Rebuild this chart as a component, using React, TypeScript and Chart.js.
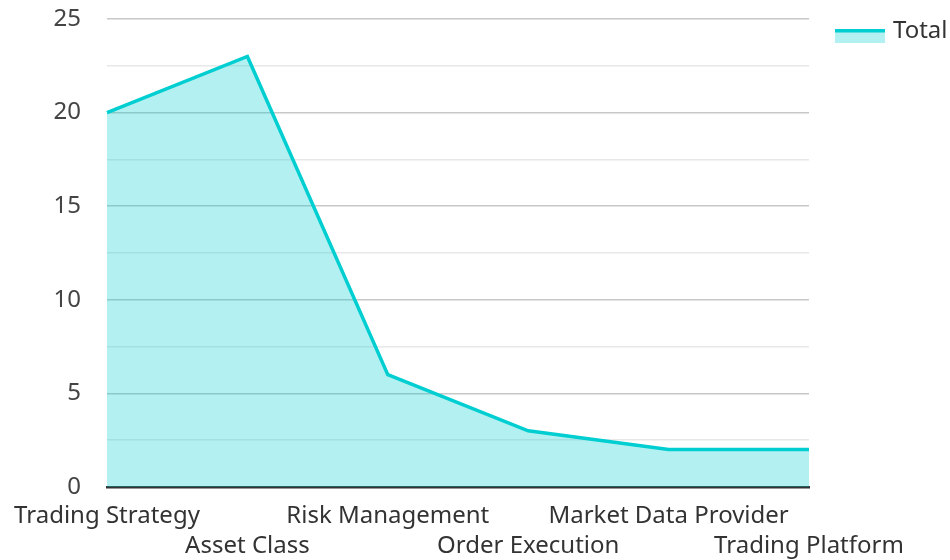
import React, { useEffect, useRef } from "react";
import { Chart, registerables } from "chart.js";

Chart.register(...registerables);

const categories = [
  "Trading Strategy",
  "Asset Class",
  "Risk Management",
  "Order Execution",
  "Market Data Provider",
  "Trading Platform",
];
const totals = [20, 23, 6, 3, 2, 2];
const seriesName = "Total";
const lineColor = "rgb(0, 206, 209)";
const fillColor = "rgba(0, 206, 209, 0.3)";
const FONT = "'Noto Sans', sans-serif";

const legendPlugin = {
  id: "customLegend",
  afterDraw(chart: any) {
    const ctx = chart.ctx;
    const x = chart.chartArea.right + 26;
    const y = 29;
    ctx.save();
    ctx.fillStyle = fillColor;
    ctx.fillRect(x, y, 50, 14);
    ctx.fillStyle = lineColor;
    ctx.fillRect(x, y, 50, 3.5);
    ctx.fillStyle = "#333";
    ctx.font = `24px ${FONT}`;
    ctx.textBaseline = "middle";
    ctx.textAlign = "left";
    ctx.fillText(seriesName, x + 58, y + 2);
    ctx.restore();
  },
};

export default function App() {
  const ref = useRef<HTMLCanvasElement>(null);
  useEffect(() => {
    document.body.style.margin = "0";
    const chart = new Chart(ref.current!, {
      type: "line",
      data: {
        labels: categories,
        datasets: [
          {
            label: seriesName,
            data: totals,
            borderColor: lineColor,
            backgroundColor: fillColor,
            borderWidth: 3.5,
            fill: "origin",
            tension: 0,
            pointRadius: 0,
          },
        ],
      },
      options: {
        responsive: false,
        animation: false,
        layout: { padding: { top: 19, right: 141, left: 0, bottom: 0 } },
        plugins: { legend: { display: false }, tooltip: { enabled: false } },
        scales: {
          x: {
            offset: false,
            afterFit: (scale: any) => {
              scale.height = 73;
            },
            grid: { display: false, drawTicks: false },
            border: { display: true, color: "#333", width: 2.5 },
            ticks: {
              autoSkip: false,
              maxRotation: 0,
              minRotation: 0,
              padding: 14,
              color: "#333",
              font: { family: FONT, size: 24, lineHeight: 1.25 },
              callback: (_v: any, i: number) =>
                i % 2 === 0 ? [categories[i], ""] : ["", categories[i]],
            },
          },
          y: {
            min: 0,
            max: 25,
            afterFit: (scale: any) => {
              scale.width = 107;
              scale.paddingTop = 0;
              scale.paddingBottom = 0;
            },
            border: { display: false },
            grid: {
              drawTicks: false,
              color: (c: any) =>
                c.tick && Math.abs(c.tick.value % 5) < 1e-6 ? "#c8c8c8" : "#e8e8e8",
              lineWidth: 1.5,
            },
            ticks: {
              stepSize: 2.5,
              padding: 26,
              color: "#444",
              font: { family: FONT, size: 24, lineHeight: 1.2 },
              callback: (v: any) => (Math.abs(Number(v) % 5) < 1e-6 ? String(v) : ""),
            },
          },
        },
      },
      plugins: [legendPlugin],
    });
    return () => chart.destroy();
  }, []);
  return (
    <div style={{ width: 950, height: 560 }}>
      <canvas ref={ref} width={950} height={560} />
    </div>
  );
}
